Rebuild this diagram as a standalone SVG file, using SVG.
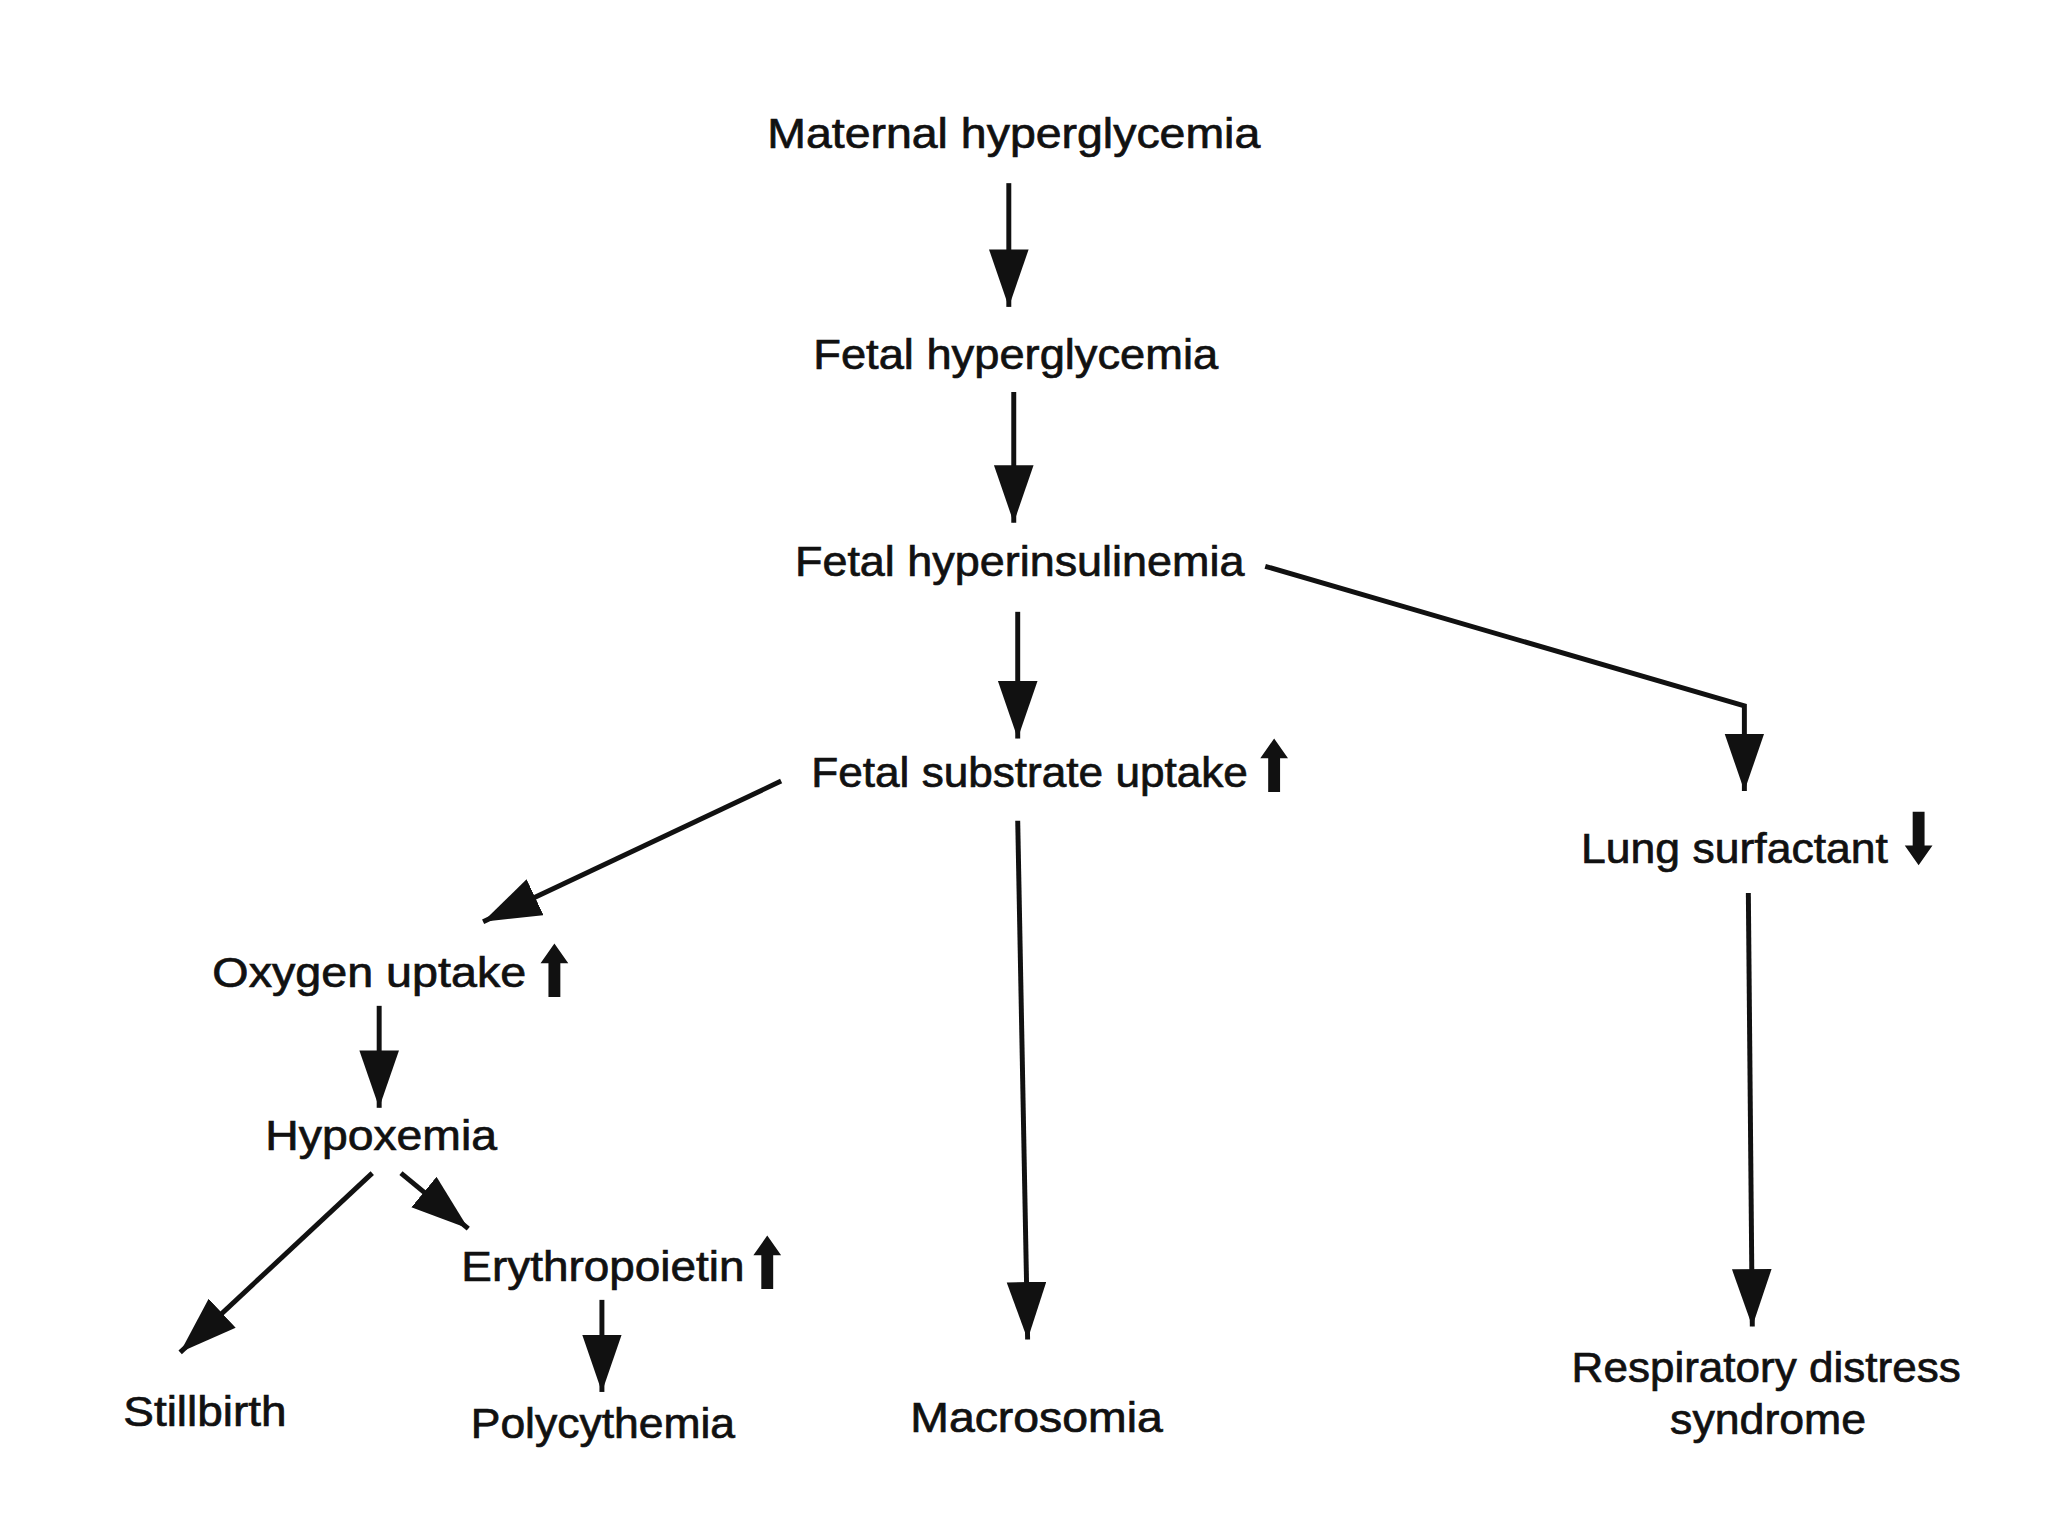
<svg xmlns="http://www.w3.org/2000/svg" xmlns:xlink="http://www.w3.org/1999/xlink" width="2048" height="1536" viewBox="0 0 2048 1536">
<style>
text{font-family:"Liberation Sans",Arial,sans-serif;font-size:42px;fill:#111;stroke:#111;stroke-width:0.7;text-anchor:middle}
.c line,.c polyline{stroke:#111;stroke-width:5;fill:none;marker-end:url(#ah)}
</style>
<defs>
<marker id="ah" markerUnits="userSpaceOnUse" markerWidth="60" markerHeight="42" refX="58" refY="20" orient="auto"><path d="M0,0 L58,20 L0,40 z" fill="#111"/></marker>
<path id="up" d="M-14,18 L0,-2 L14,18 L6,18 L6,52 L-6,52 L-6,18 z" fill="#111"/>
<path id="dn" d="M-14,34 L0,54 L14,34 L6,34 L6,0 L-6,0 L-6,34 z" fill="#111"/>
</defs>
<rect width="2048" height="1536" fill="#fff"/>
<g transform="scale(0.99)">
<g class="c" id="connectors">
<line x1="1019" y1="185" x2="1019" y2="310"/>
<line x1="1024" y1="396" x2="1024" y2="528"/>
<line x1="1028" y1="618" x2="1028" y2="746"/>
<polyline points="1278,572 1762,713 1762,799"/>
<line x1="789" y1="789" x2="488" y2="931"/>
<line x1="1028" y1="829" x2="1038" y2="1353"/>
<line x1="1766" y1="902" x2="1770" y2="1340"/>
<line x1="383" y1="1016" x2="383" y2="1119"/>
<line x1="376" y1="1185" x2="182" y2="1366"/>
<line x1="405" y1="1185" x2="473" y2="1241"/>
<line x1="608" y1="1313" x2="608" y2="1406"/>
</g>
<g id="n1"><text x="1024" y="150" textLength="498" lengthAdjust="spacingAndGlyphs">Maternal hyperglycemia</text></g>
<g id="n2"><text x="1026" y="373" textLength="409" lengthAdjust="spacingAndGlyphs">Fetal hyperglycemia</text></g>
<g id="n3"><text x="1030" y="582" textLength="454" lengthAdjust="spacingAndGlyphs">Fetal hyperinsulinemia</text></g>
<g id="n4"><text x="1040" y="795" textLength="441" lengthAdjust="spacingAndGlyphs">Fetal substrate uptake</text><use xlink:href="#up" x="1287" y="748"/></g>
<g id="n5"><text x="1752" y="872" textLength="310" lengthAdjust="spacingAndGlyphs">Lung surfactant</text><use xlink:href="#dn" x="1938" y="820"/></g>
<g id="n6"><text x="373" y="997" textLength="317" lengthAdjust="spacingAndGlyphs">Oxygen uptake</text><use xlink:href="#up" x="560" y="955"/></g>
<g id="n7"><text x="385" y="1162" textLength="234" lengthAdjust="spacingAndGlyphs">Hypoxemia</text></g>
<g id="n8"><text x="609" y="1294" textLength="286" lengthAdjust="spacingAndGlyphs">Erythropoietin</text><use xlink:href="#up" x="775" y="1250"/></g>
<g id="n9"><text x="207" y="1440" textLength="165" lengthAdjust="spacingAndGlyphs">Stillbirth</text></g>
<g id="n10"><text x="609" y="1453" textLength="267" lengthAdjust="spacingAndGlyphs">Polycythemia</text></g>
<g id="n11"><text x="1047" y="1446" textLength="255" lengthAdjust="spacingAndGlyphs">Macrosomia</text></g>
<g id="n12"><text x="1784" y="1396" textLength="393" lengthAdjust="spacingAndGlyphs">Respiratory distress</text><text x="1786" y="1449" textLength="198" lengthAdjust="spacingAndGlyphs">syndrome</text></g>
</g>
</svg>
